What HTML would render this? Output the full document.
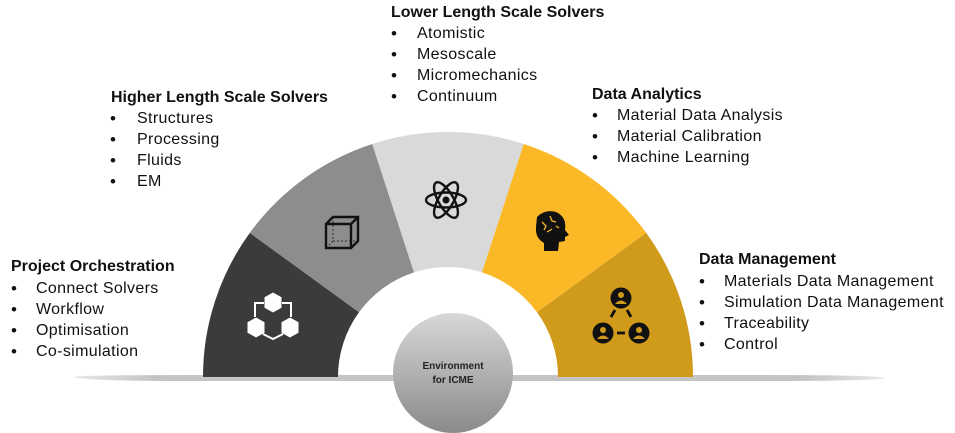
<!DOCTYPE html>
<html><head><meta charset="utf-8"><style>
body{margin:0;width:955px;height:433px;background:#fff;overflow:hidden;position:relative;font-family:"Liberation Sans",sans-serif;color:#111}
.h{position:absolute;font-weight:bold;font-size:16px;white-space:nowrap}
.i{position:absolute;font-size:16px;letter-spacing:0.35px;white-space:nowrap}
.b{position:absolute;font-size:17px}
</style></head><body>
<svg width="955" height="433" style="position:absolute;left:0;top:0">
<defs>
<linearGradient id="bar" x1="0" x2="1"><stop offset="0" stop-color="#e8e8e8"/><stop offset="0.1" stop-color="#c4c4c4"/><stop offset="0.9" stop-color="#c4c4c4"/><stop offset="1" stop-color="#e8e8e8"/></linearGradient>
<linearGradient id="circ" x1="0" y1="0" x2="0" y2="1"><stop offset="0" stop-color="#d8d8d8"/><stop offset="1" stop-color="#8a8a8a"/></linearGradient>
</defs>
<path d="M73 377 Q80 375 200 375 L760 375 Q880 375 885 378 Q880 381 760 381 L200 381 Q80 381 73 377Z" fill="url(#bar)"/>
<path d="M203 377 A245 245 0 0 1 249.8 232.9 L359 312.3 A110 110 0 0 0 338 377Z" fill="#3b3b3b"/>
<path d="M249.8 232.9 A245 245 0 0 1 372.3 144 L414 272.4 A110 110 0 0 0 359 312.3Z" fill="#8d8d8d"/>
<path d="M372.3 144 A245 245 0 0 1 523.7 144 L482 272.4 A110 110 0 0 0 414 272.4Z" fill="#d9d9d9"/>
<path d="M523.7 144 A245 245 0 0 1 646.2 232.9 L537 312.3 A110 110 0 0 0 482 272.4Z" fill="#fbb827"/>
<path d="M646.2 232.9 A245 245 0 0 1 693 377 L558 377 A110 110 0 0 0 537 312.3Z" fill="#d09a1b"/>
<circle cx="453" cy="373" r="60" fill="url(#circ)"/>
<text x="453" y="369" font-size="10" font-weight="bold" text-anchor="middle" fill="#222" font-family="Liberation Sans">Environment</text>
<text x="453" y="383" font-size="10" font-weight="bold" text-anchor="middle" fill="#222" font-family="Liberation Sans">for ICME</text>
<!-- cube -->
<g fill="none" stroke="#111" stroke-width="2.4"><path d="M326 224 L333 217 L358 217 L358 241 L351 248 L326 248Z M326 224 L351 224 L351 248 M351 224 L358 217"/></g>
<path d="M333 217 V241 H358 M333 241 L326 248" stroke="#111" stroke-width="0.8" stroke-dasharray="2 2" fill="none"/>
<!-- atom -->
<g fill="none" stroke="#111" stroke-width="2.4"><ellipse cx="446" cy="200" rx="20" ry="7.5"/><ellipse cx="446" cy="200" rx="20" ry="7.5" transform="rotate(60 446 200)"/><ellipse cx="446" cy="200" rx="20" ry="7.5" transform="rotate(-60 446 200)"/></g>
<circle cx="446" cy="200" r="3.5" fill="#111"/>
<!-- head -->
<path d="M537 217 Q545 209 556 212 Q567 217 565 230 L569 235 L565 237 L565 241 L559 242 L558 251 L544 251 L544 243 Q535 238 536 227Z" fill="#111"/>
<path d="M542 222 l4 4 l-2 4 M550 216 l2 5 l4 1 M547 232 l5 -3 M556 226 l3 2" stroke="#fbb827" stroke-width="1.3" fill="none"/>
<!-- blocks -->
<g fill="#fff" stroke="#3b3b3b" stroke-width="1"><path d="M264 297 l9 -5 l9 5 v11 l-9 5 l-9 -5z"/><path d="M247 322 l9 -5 l9 5 v11 l-9 5 l-9 -5z"/><path d="M281 322 l9 -5 l9 5 v11 l-9 5 l-9 -5z"/></g>
<path d="M264 303 h-9 v14 M282 303 h9 v14 M263 334 l10 5 l10 -5" stroke="#fff" stroke-width="2" fill="none"/>
<!-- people -->
<g fill="#111"><circle cx="621" cy="298" r="10.5"/><circle cx="603" cy="333" r="10.5"/><circle cx="639" cy="333" r="10.5"/></g>
<g fill="#d09a1b"><circle cx="621" cy="295" r="3"/><path d="M615 304 q6 -7 12 0z"/><circle cx="603" cy="330" r="3"/><path d="M597 339 q6 -7 12 0z"/><circle cx="639" cy="330" r="3"/><path d="M633 339 q6 -7 12 0z"/></g>
<path d="M615 310 l-4 7 M627 310 l4 7 M617 333 h8" stroke="#111" stroke-width="2.8"/>
</svg>
<div class="h" style="left:391px;top:4px">Lower Length Scale Solvers</div>
<div class="b" style="left:391px;top:24px">•</div><div class="i" style="left:417px;top:25px">Atomistic</div>
<div class="b" style="left:391px;top:45px">•</div><div class="i" style="left:417px;top:46px">Mesoscale</div>
<div class="b" style="left:391px;top:66px">•</div><div class="i" style="left:417px;top:67px">Micromechanics</div>
<div class="b" style="left:391px;top:87px">•</div><div class="i" style="left:417px;top:88px">Continuum</div>
<div class="h" style="left:111px;top:89px">Higher Length Scale Solvers</div>
<div class="b" style="left:110px;top:109px">•</div><div class="i" style="left:137px;top:110px">Structures</div>
<div class="b" style="left:110px;top:130px">•</div><div class="i" style="left:137px;top:131px">Processing</div>
<div class="b" style="left:110px;top:151px">•</div><div class="i" style="left:137px;top:152px">Fluids</div>
<div class="b" style="left:110px;top:172px">•</div><div class="i" style="left:137px;top:173px">EM</div>
<div class="h" style="left:592px;top:86px">Data Analytics</div>
<div class="b" style="left:592px;top:106px">•</div><div class="i" style="left:617px;top:107px">Material Data Analysis</div>
<div class="b" style="left:592px;top:127px">•</div><div class="i" style="left:617px;top:128px">Material Calibration</div>
<div class="b" style="left:592px;top:148px">•</div><div class="i" style="left:617px;top:149px">Machine Learning</div>
<div class="h" style="left:699px;top:251px">Data Management</div>
<div class="b" style="left:699px;top:272px">•</div><div class="i" style="left:724px;top:273px">Materials Data Management</div>
<div class="b" style="left:699px;top:293px">•</div><div class="i" style="left:724px;top:294px">Simulation Data Management</div>
<div class="b" style="left:699px;top:314px">•</div><div class="i" style="left:724px;top:315px">Traceability</div>
<div class="b" style="left:699px;top:335px">•</div><div class="i" style="left:724px;top:336px">Control</div>
<div class="h" style="left:11px;top:258px">Project Orchestration</div>
<div class="b" style="left:11px;top:279px">•</div><div class="i" style="left:36px;top:280px">Connect Solvers</div>
<div class="b" style="left:11px;top:300px">•</div><div class="i" style="left:36px;top:301px">Workflow</div>
<div class="b" style="left:11px;top:321px">•</div><div class="i" style="left:36px;top:322px">Optimisation</div>
<div class="b" style="left:11px;top:342px">•</div><div class="i" style="left:36px;top:343px">Co-simulation</div>
</body></html>
